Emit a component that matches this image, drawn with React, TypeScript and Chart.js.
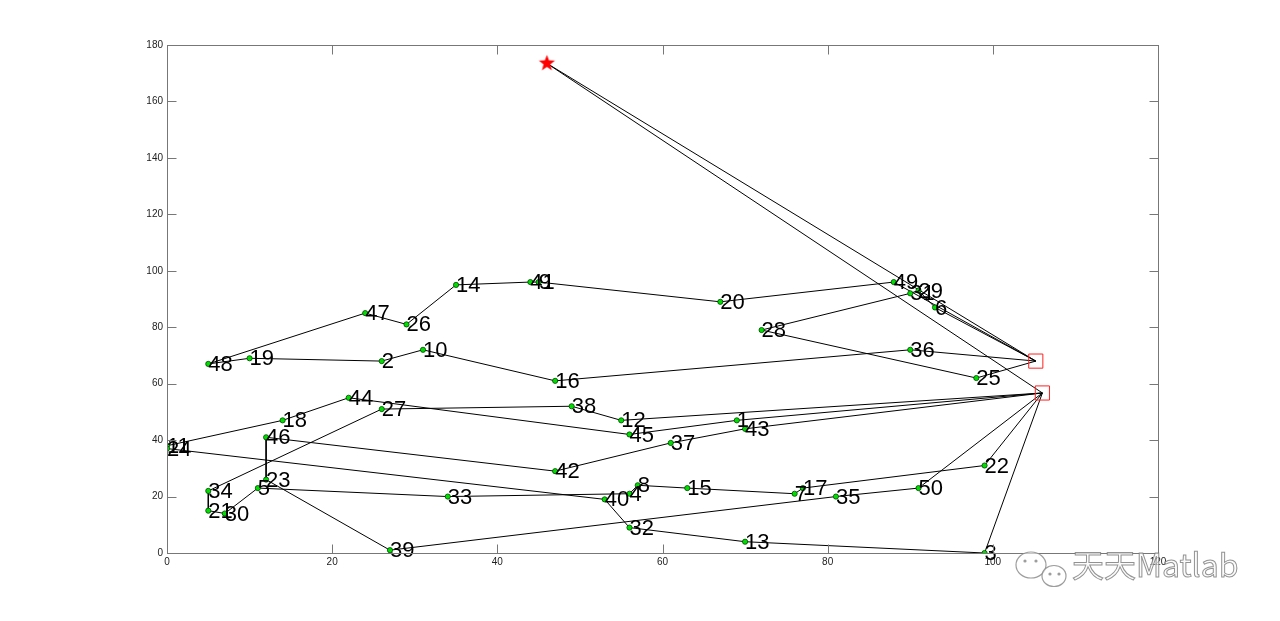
import React, { useEffect, useRef } from "react";
import { Chart, registerables } from "chart.js";
Chart.register(...registerables);

// Customer ids 1..50 and their coordinates
const customerX = [69, 26, 99, 56, 11, 93, 76, 57, 45, 31, 0, 55, 70, 35, 63, 47, 77, 14, 10, 67, 5, 99, 12, 0, 98, 29, 26, 72, 91, 7, 90, 56, 34, 5, 81, 90, 61, 49, 27, 53, 44, 47, 70, 22, 56, 12, 24, 5, 88, 91];
const customerY = [47, 68, 0, 21, 23, 87, 21, 24, 96, 72, 38, 47, 4, 95, 23, 61, 23, 47, 69, 89, 15, 31, 26, 37, 62, 81, 51, 79, 93, 14, 92, 9, 20, 22, 20, 72, 39, 52, 1, 19, 96, 29, 44, 55, 42, 41, 85, 67, 96, 23];

// Depot (star)
const depotX = [46];
const depotY = [173.5];

// Stations (red squares)
const stationX = [105.2, 106];
const stationY = [68, 56.7];

// Routes: station index and visited customer ids
const route1 = [49, 20, 9, 41, 14, 26, 47, 48, 19, 2, 10, 16, 36];
const route2 = [6, 29, 31, 28, 25];
const route3 = [12, 38, 27, 34, 21, 30, 5, 33, 4, 8, 15, 7, 17, 22];
const route4 = [1, 45, 44, 18, 11, 24, 40, 32, 13, 3];
const route5 = [43, 37, 42, 46, 23, 39, 35, 50];
const routeList = [route1, route2, route3, route4, route5];
const routeStation = [0, 0, 1, 1, 1];

const xTicks = [0, 20, 40, 60, 80, 100, 120];
const yTicks = [0, 20, 40, 60, 80, 100, 120, 140, 160, 180];

function makeStar(r: number) {
  const s = Math.ceil(r * 2 + 2);
  const c = document.createElement("canvas");
  c.width = s;
  c.height = s;
  const g = c.getContext("2d")!;
  g.beginPath();
  for (let i = 0; i < 10; i++) {
    const rad = i % 2 === 0 ? r : r * 0.42;
    const a = -Math.PI / 2 + (i * Math.PI) / 5;
    g.lineTo(s / 2 + rad * Math.cos(a), s / 2 + rad * Math.sin(a));
  }
  g.closePath();
  g.fillStyle = "#ff0000";
  g.fill();
  return c;
}

const pt = (id: number) => ({ x: customerX[id - 1], y: customerY[id - 1] });
const st = (i: number) => ({ x: stationX[i], y: stationY[i] });

export default function App() {
  const ref = useRef<HTMLCanvasElement>(null);
  useEffect(() => {
    const lineDs = (data: any[]) => ({
      type: "scatter" as const,
      data,
      showLine: true,
      borderColor: "#000000",
      borderWidth: 1,
      pointRadius: 0,
      fill: false,
      order: 10,
    });
    const datasets: any[] = [];
    routeList.forEach((r, i) => {
      const s = st(routeStation[i]);
      datasets.push(lineDs([s, ...r.map(pt), s]));
    });
    for (let i = 0; i < stationX.length; i++) {
      datasets.push(lineDs([{ x: depotX[0], y: depotY[0] }, st(i)]));
    }
    datasets.push({
      type: "scatter",
      data: customerX.map((x, i) => ({ x, y: customerY[i] })),
      pointRadius: 2.6,
      pointBackgroundColor: "#00e000",
      pointBorderColor: "#004400",
      pointBorderWidth: 0.8,
      showLine: false,
      order: 2,
    });
    datasets.push({
      type: "scatter",
      data: stationX.map((x, i) => ({ x, y: stationY[i] })),
      pointStyle: "rect",
      pointRadius: 10,
      pointBackgroundColor: "rgba(0,0,0,0)",
      pointBorderColor: "#ff2020",
      pointBorderWidth: 1,
      showLine: false,
      order: 1,
    });
    datasets.push({
      type: "scatter",
      data: depotX.map((x, i) => ({ x, y: depotY[i] })),
      pointStyle: makeStar(8.5),
      pointRadius: 9,
      showLine: false,
      order: 0,
    });

    const overlay = {
      id: "overlay",
      afterDatasetsDraw(chart: any) {
        const ctx = chart.ctx;
        const xs = chart.scales.x;
        const ys = chart.scales.y;
        // labels
        ctx.save();
        ctx.fillStyle = "#000";
        ctx.font = '22px "Liberation Sans", Arial, sans-serif';
        ctx.textAlign = "left";
        ctx.textBaseline = "middle";
        customerX.forEach((x, i) => {
          ctx.fillText(String(i + 1), xs.getPixelForValue(x), ys.getPixelForValue(customerY[i]) + 1);
        });
        ctx.restore();
        // box and inward ticks
        const a = chart.chartArea;
        ctx.save();
        ctx.strokeStyle = "#777777";
        ctx.lineWidth = 1;
        const L = Math.round(a.left) + 0.5, R = Math.round(a.right) + 0.5;
        const T = Math.round(a.top) + 0.5, B = Math.round(a.bottom) + 0.5;
        ctx.strokeRect(L, T, R - L, B - T);
        ctx.beginPath();
        xTicks.forEach((v) => {
          const px = Math.round(xs.getPixelForValue(v)) + 0.5;
          ctx.moveTo(px, B); ctx.lineTo(px, B - 9);
          ctx.moveTo(px, T); ctx.lineTo(px, T + 9);
        });
        yTicks.forEach((v) => {
          const py = Math.round(ys.getPixelForValue(v)) + 0.5;
          ctx.moveTo(L, py); ctx.lineTo(L + 9, py);
          ctx.moveTo(R, py); ctx.lineTo(R - 9, py);
        });
        ctx.stroke();
        ctx.restore();
      },
      afterDraw(chart: any) {
        const ctx = chart.ctx;
        ctx.save();
        // watermark
        ctx.strokeStyle = "rgba(140,140,140,0.85)";
        ctx.fillStyle = "rgba(255,255,255,0.6)";
        ctx.lineWidth = 1.2;
        ctx.beginPath();
        ctx.ellipse(1023, 557, 15, 13, 0, 0, Math.PI * 2);
        ctx.fill(); ctx.stroke();
        ctx.beginPath();
        ctx.ellipse(1046, 568, 12, 10.5, 0, 0, Math.PI * 2);
        ctx.fill(); ctx.stroke();
        ctx.fillStyle = "rgba(140,140,140,0.85)";
        [[1017, 553], [1028, 553], [1042, 566], [1051, 566]].forEach(([x, y]) => {
          ctx.beginPath(); ctx.arc(x, y, 1.6, 0, Math.PI * 2); ctx.fill();
        });
        ctx.font = '32px "Noto Sans CJK SC", "Liberation Sans", sans-serif';
        ctx.textBaseline = "middle";
        ctx.textAlign = "left";
        ctx.fillStyle = "rgba(250,250,250,0.7)";
        ctx.fillText("天天Matlab", 1064, 557);
        ctx.lineWidth = 1;
        ctx.strokeStyle = "rgba(120,120,120,0.8)";
        ctx.strokeText("天天Matlab", 1064, 557);
        ctx.restore();
      },
    };

    const chart = new Chart(ref.current!, {
      type: "scatter",
      data: { datasets },
      options: {
        animation: false,
        responsive: false,
        devicePixelRatio: 1,
        layout: { padding: { top: 37, right: 114, left: 0, bottom: 0 } },
        plugins: { legend: { display: false }, tooltip: { enabled: false } },
        scales: {
          x: {
            type: "linear",
            min: 0,
            max: 120,
            afterBuildTicks: (s: any) => { s.ticks = xTicks.map((v) => ({ value: v })); },
            ticks: { color: "#222", font: { size: 10, family: '"Liberation Sans", Arial, sans-serif' }, padding: 3, maxRotation: 0 },
            grid: { display: false, drawTicks: false },
            border: { display: false },
            afterFit: (s: any) => { s.height = 60; },
          },
          y: {
            type: "linear",
            min: 0,
            max: 180,
            afterBuildTicks: (s: any) => { s.ticks = yTicks.map((v) => ({ value: v })); },
            ticks: { color: "#222", font: { size: 10, family: '"Liberation Sans", Arial, sans-serif' }, padding: 4 },
            grid: { display: false, drawTicks: false },
            border: { display: false },
            afterFit: (s: any) => { s.width = 159; },
          },
        },
      },
      plugins: [overlay],
    } as any);
    return () => chart.destroy();
  }, []);
  return (
    <div style={{ width: 1264, height: 605 }}>
      <canvas ref={ref} width={1264} height={605} style={{ width: 1264, height: 605, display: "block" }} />
    </div>
  );
}
